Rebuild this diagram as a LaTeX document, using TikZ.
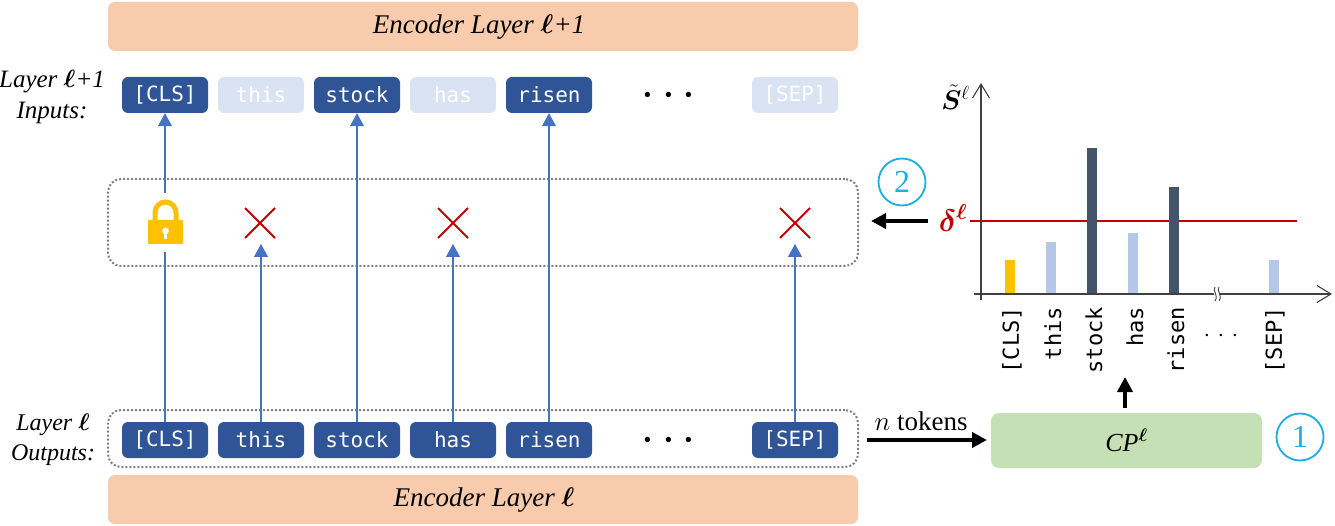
\RequirePackage{fix-cm}
\documentclass[tikz,border=0pt]{standalone}
\usepackage{amsmath}
\usepackage{bm}
\usepackage{fontspec}
\setmainfont{Liberation Serif}
\newfontfamily\tokfont{DejaVu Sans Mono}
\usetikzlibrary{arrows.meta}
\definecolor{enc}{HTML}{F8CBAD}
\definecolor{tok}{HTML}{2F5597}
\definecolor{tokl}{HTML}{DAE3F3}
\definecolor{arr}{HTML}{4472C4}
\definecolor{grn}{HTML}{C5E0B4}
\definecolor{dots}{HTML}{7F7F7F}
\definecolor{xred}{HTML}{C00000}
\definecolor{lockc}{HTML}{FFC000}
\definecolor{cyanb}{HTML}{1CADE4}
\definecolor{bdark}{HTML}{44546A}
\definecolor{blight}{HTML}{B4C7E7}
\newcommand{\fsz}[1]{\fontsize{#1}{#1}\selectfont}
\tikzset{
 x=1pt,y=-1pt,
 encbox/.style={fill=enc,rounded corners=7pt,minimum width=750pt,minimum height=49pt,inner sep=0pt},
 enctext/.style={inner sep=0pt,font=\fsz{27}\itshape},
 token/.style={fill=tok,rounded corners=6pt,minimum width=86pt,minimum height=36pt,inner sep=0pt,text=white,font=\fsz{21}\tokfont},
 off/.style={token,fill=tokl},
 dotbox/.style={draw=dots,line width=2pt,dash pattern=on 2pt off 2pt,rounded corners=13pt,minimum width=750pt,inner sep=0pt},
 flow/.style={draw=arr,line width=1.1pt,-{Triangle[length=13pt,width=14pt,fill=arr]}},
 flowp/.style={draw=arr,line width=1.1pt},
 big/.style={draw=black,line width=4.5pt,-{Triangle[length=15pt,width=15pt,fill=black]}},
 side/.style={font=\fsz{25}\itshape,align=center,inner sep=0pt},
 num/.style={circle,draw=cyanb,line width=1.8pt,minimum size=47pt,inner sep=0pt,text=cyanb,font=\fsz{32}},
 bar/.style={minimum width=10pt,inner sep=0pt,anchor=south},
 rlab/.style={rotate=90,anchor=east,inner sep=0pt,font=\fsz{22}\tokfont},
 cross/.style={draw=xred,line width=1.8pt},
 ax/.style={draw=black!75,line width=1.1pt},
 axtip/.style={-{Straight Barb[length=14pt,width=17pt,line width=1.1pt]}},
 hdots/.style={inner sep=0pt,font=\fsz{34}},
}
\newcommand{\tdots}{$\mathord{\bm{\cdot}}\mkern5mu\mathord{\bm{\cdot}}\mkern5mu\mathord{\bm{\cdot}}$}
\begin{document}
\begin{tikzpicture}
\useasboundingbox (0,0) rectangle (1335,526);
% encoder layers
\node[encbox] (enctop) at (483,26.5) {};
\node[encbox] (encbot) at (483,499.5) {};
\node[enctext] (enctopt) at (479,27) {Encoder Layer $\bm{\ell}$+1};
\node[enctext] (encbott) at (484,500) {Encoder Layer $\bm{\ell}$};
% dotted boxes
\node[dotbox,minimum height=87pt] (gate) at (483,222.5) {};
\node[dotbox,minimum height=57pt] (outbox) at (483,438.5) {};
% top tokens
\node[token] (t1) at (165,95) {[CLS]};
\node[off]   (t2) at (261,95) {this};
\node[token] (t3) at (357,95) {stock};
\node[off]   (t4) at (453,95) {has};
\node[token] (t5) at (549,95) {risen};
\node[off]   (t6) at (795,95) {[SEP]};
\node[hdots] (tdots) at (668.5,95) {\tdots};
% bottom tokens
\node[token] (b1) at (165,440) {[CLS]};
\node[token] (b2) at (261,440) {this};
\node[token] (b3) at (357,440) {stock};
\node[token] (b4) at (453,440) {has};
\node[token] (b5) at (549,440) {risen};
\node[token] (b6) at (795,440) {[SEP]};
\node[hdots] (bdots) at (668.5,440) {\tdots};
% side labels
\node[side] (lt) at (52,97) {Layer $\bm{\ell}$+1\\[6pt]Inputs:};
\node[side,font=\fsz{24}\itshape] (lb) at (53,440) {Layer $\bm{\ell}$\\[6pt]Outputs:};
% lock
\coordinate (lockt) at (165,193);
\coordinate (lockb) at (165,252);
\fill[lockc,rounded corners=1pt] (148,220) rectangle (183,244);
\draw[lockc,line width=5pt] (155,222) -- (155,212.5) arc[start angle=180,end angle=0,radius=10.5pt] -- (176,222);
\fill[white] (165.5,231) circle[radius=3.4pt];
\fill[white] (164,231) rectangle (167,239);
% crosses
\foreach \n/\cx in {x2/260,x4/453,x6/795}{
  \coordinate (\n) at (\cx,244);
  \draw[cross] (\cx-15,208) -- (\cx+15,238) (\cx-15,238) -- (\cx+15,208);
}
% arrows
\draw[flowp] (b1.north) -- (lockb);
\draw[flow] (lockt) -- (t1.south);
\draw[flow] (b3.north) -- (t3.south);
\draw[flow] (b5.north) -- (t5.south);
\draw[flow] (b2.north) -- (b2.north |- x2);
\draw[flow] (b4.north) -- (x4);
\draw[flow] (b6.north) -- (x6);
% CP box
\node[fill=grn,rounded corners=8pt,minimum width=271pt,minimum height=55pt,inner sep=0pt,font=\fsz{26}\itshape] (cp) at (1126.5,440.5) {CP$^{\bm{\ell}}$};
\node[num] (n1) at (1300,437) {1};
\node[num] (n2) at (902,182) {2};
% big arrows
\coordinate (outr) at (867,440);
\coordinate (cpl) at (987,440);
\draw[big] (outr) -- (cpl);
\node[inner sep=0pt,font=\fsz{27},anchor=base] (ntok) at (921,430) {$n$ tokens};
\coordinate (cpt) at (1125,408);
\coordinate (chartb) at (1125,377);
\draw[big] (cpt) -- (chartb);
\coordinate (dr) at (928,221);
\coordinate (dl) at (871,221);
\draw[big] (dr) -- (dl);
% chart
\coordinate (xo) at (974,294);
\coordinate (xb1) at (1214,294);
\coordinate (xb2) at (1219,294);
\coordinate (xe) at (1332,294);
\coordinate (yo) at (981,300);
\coordinate (ye) at (981,83);
\coordinate (dl1) at (970,221);
\coordinate (dl2) at (1297,221);
\draw[xred,line width=1.8pt] (dl1) -- (dl2);
\node[bar,fill=lockc,minimum height=34pt] (s1) at (1010,294) {};
\node[bar,fill=blight,minimum height=52pt] (s2) at (1051,294) {};
\node[bar,fill=bdark,minimum height=146pt] (s3) at (1092,294) {};
\node[bar,fill=blight,minimum height=61pt] (s4) at (1133,294) {};
\node[bar,fill=bdark,minimum height=107pt] (s5) at (1174,294) {};
\node[bar,fill=blight,minimum height=34pt] (s6) at (1274,294) {};
\draw[ax] (xo) -- (xb1);
\draw[ax,axtip] (xb2) -- (xe);
\draw[ax,line width=.9pt] (1215,287) .. controls (1212,291) and (1219,295) .. (1215,301)
      (1219,287) .. controls (1216,291) and (1223,295) .. (1219,301);
\draw[ax,axtip] (yo) -- (ye);
\node[font=\fsz{27},inner sep=0pt] (sl) at (955.5,97) {$\tilde{\bm{S}}^{\ell}$};
\node[font=\fsz{31},text=xred,inner sep=0pt] (dlab) at (953,218) {$\bm{\delta^{\ell}}$};
\node[rlab] (r1) at (1012,307) {[CLS]};
\node[rlab] (r2) at (1053,307) {this};
\node[rlab] (r3) at (1094,307) {stock};
\node[rlab] (r4) at (1135,307) {has};
\node[rlab] (r5) at (1176,307) {risen};
\node[hdots,font=\fsz{24}] (rd) at (1221,336) {$\mathord{\cdot}\mkern5.5mu\mathord{\cdot}\mkern5.5mu\mathord{\cdot}$};
\node[rlab] (r6) at (1275,307) {[SEP]};
\end{tikzpicture}
\end{document}
